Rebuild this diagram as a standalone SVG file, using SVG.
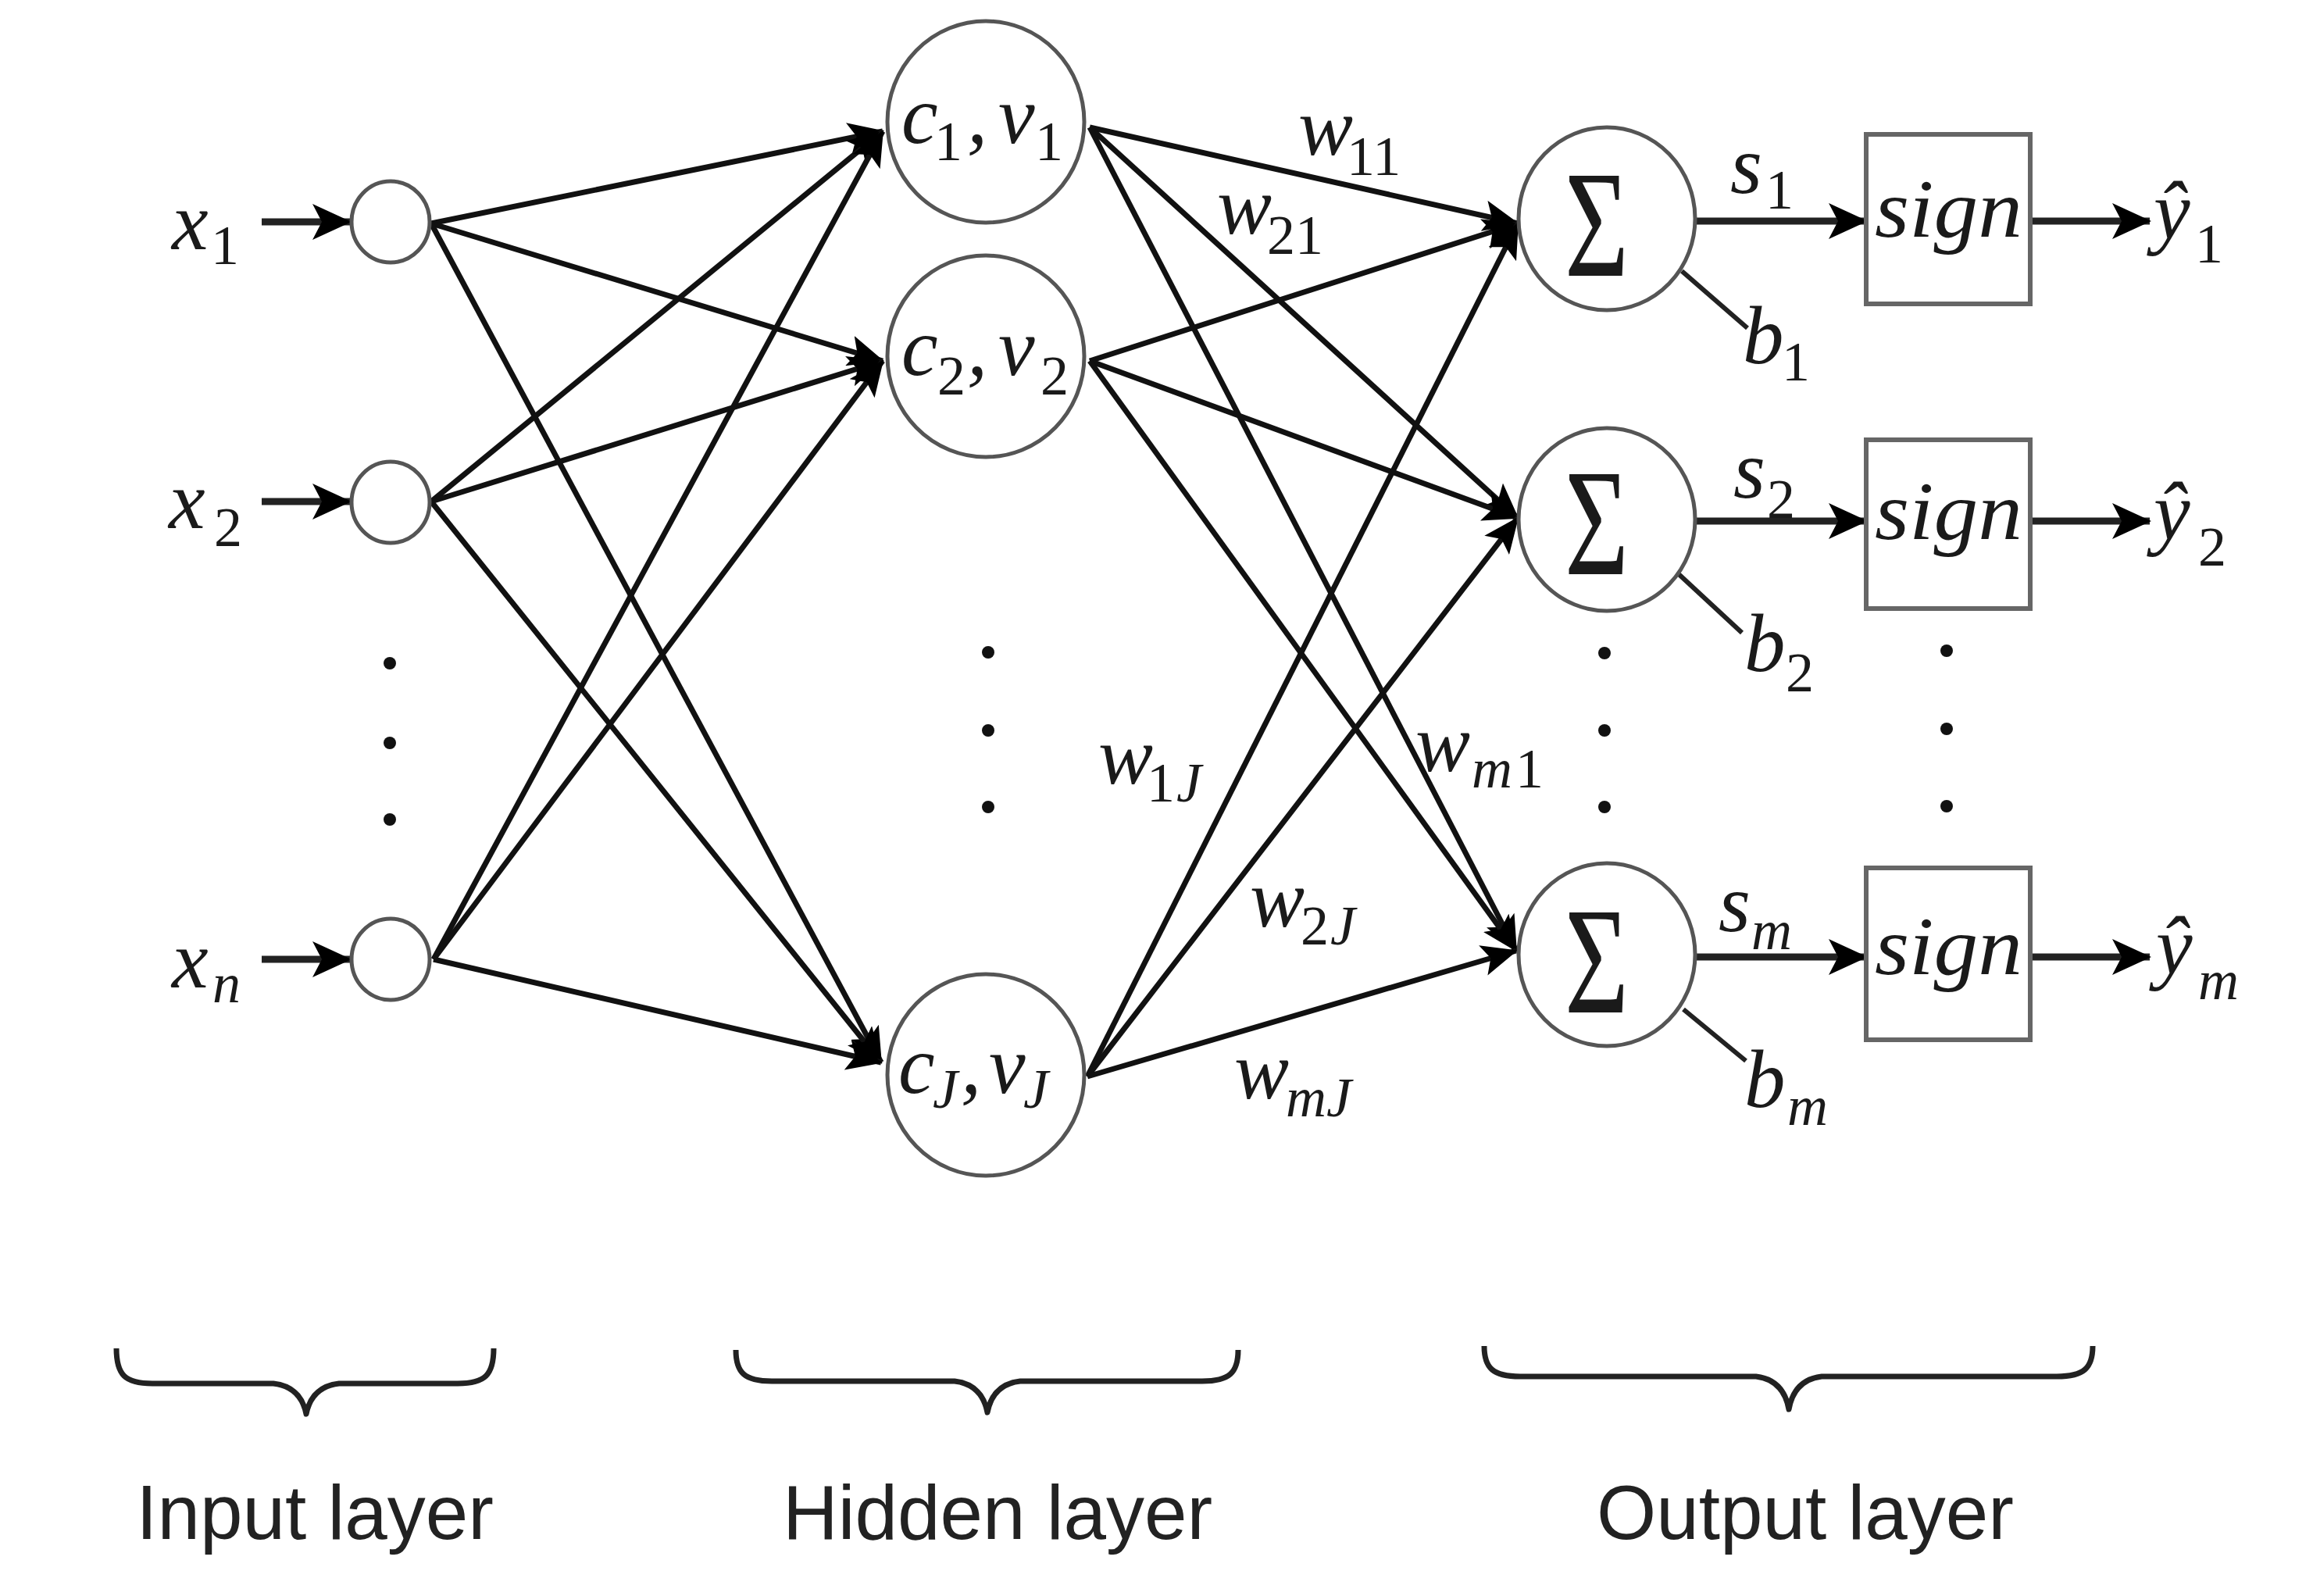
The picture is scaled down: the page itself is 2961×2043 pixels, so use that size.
<svg xmlns="http://www.w3.org/2000/svg" width="2961" height="2043" viewBox="0 0 2961 2043">
<style>
.bg{fill:#ffffff}
.node{fill:#ffffff;stroke:#555555;stroke-width:5}
.box{fill:#ffffff;stroke:#666666;stroke-width:6}
.edge{stroke:#111111;stroke-width:7;fill:none}
.thick{stroke:#222222;stroke-width:9;fill:none}
.bias{stroke:#222222;stroke-width:6;fill:none}
.brace{stroke:#222222;stroke-width:7;fill:none;stroke-linejoin:round}
.dot{fill:#111111}
.m{font-family:"Liberation Serif",serif;font-style:italic;font-size:105px;fill:#1a1a1a}
.sub{font-size:72px}
.up{font-style:normal}
.sig{font-family:"Liberation Serif",serif;font-size:195px;fill:#1a1a1a}
.cap{font-family:"Liberation Sans",Arial,sans-serif;font-size:98px;fill:#222222;text-anchor:middle}
</style>
<defs>
<marker id="ah" markerUnits="userSpaceOnUse" markerWidth="46" markerHeight="40" viewBox="0 0 46 40" refX="44" refY="20" orient="auto">
<path d="M0,0 L46,20 L0,40 L10,20 z" fill="#000000"/>
</marker>
<marker id="ahb" markerUnits="userSpaceOnUse" markerWidth="50" markerHeight="46" viewBox="0 0 50 46" refX="48" refY="23" orient="auto">
<path d="M0,0 L50,23 L0,46 L12,23 z" fill="#000000"/>
</marker>
</defs>
<rect class="bg" x="0" y="0" width="2961" height="2043"/>

<g id="connectors">
<line class="thick" x1="335" y1="284" x2="448" y2="284" marker-end="url(#ahb)"/>
<line class="thick" x1="335" y1="642" x2="448" y2="642" marker-end="url(#ahb)"/>
<line class="thick" x1="335" y1="1228" x2="448" y2="1228" marker-end="url(#ahb)"/>
<line class="edge" x1="552" y1="286" x2="1130" y2="168" marker-end="url(#ah)"/>
<line class="edge" x1="552" y1="286" x2="1130" y2="462" marker-end="url(#ah)"/>
<line class="edge" x1="552" y1="286" x2="1128" y2="1360" marker-end="url(#ah)"/>
<line class="edge" x1="552" y1="642" x2="1130" y2="168" marker-end="url(#ah)"/>
<line class="edge" x1="552" y1="642" x2="1130" y2="462" marker-end="url(#ah)"/>
<line class="edge" x1="552" y1="642" x2="1128" y2="1360" marker-end="url(#ah)"/>
<line class="edge" x1="555" y1="1228" x2="1130" y2="168" marker-end="url(#ah)"/>
<line class="edge" x1="555" y1="1228" x2="1130" y2="462" marker-end="url(#ah)"/>
<line class="edge" x1="555" y1="1228" x2="1128" y2="1360" marker-end="url(#ah)"/>
<line class="edge" x1="1395" y1="163" x2="1943" y2="286" marker-end="url(#ah)"/>
<line class="edge" x1="1395" y1="163" x2="1943" y2="663" marker-end="url(#ah)"/>
<line class="edge" x1="1395" y1="163" x2="1941" y2="1217" marker-end="url(#ah)"/>
<line class="edge" x1="1395" y1="462" x2="1943" y2="286" marker-end="url(#ah)"/>
<line class="edge" x1="1395" y1="462" x2="1943" y2="663" marker-end="url(#ah)"/>
<line class="edge" x1="1395" y1="462" x2="1941" y2="1217" marker-end="url(#ah)"/>
<line class="edge" x1="1392" y1="1378" x2="1943" y2="286" marker-end="url(#ah)"/>
<line class="edge" x1="1392" y1="1378" x2="1943" y2="663" marker-end="url(#ah)"/>
<line class="edge" x1="1392" y1="1378" x2="1941" y2="1217" marker-end="url(#ah)"/>
<line class="thick" x1="2170" y1="283" x2="2389" y2="283" marker-end="url(#ahb)"/>
<line class="thick" x1="2170" y1="667" x2="2389" y2="667" marker-end="url(#ahb)"/>
<line class="thick" x1="2170" y1="1225" x2="2389" y2="1225" marker-end="url(#ahb)"/>
<line class="thick" x1="2599" y1="283" x2="2752" y2="283" marker-end="url(#ahb)"/>
<line class="thick" x1="2599" y1="667" x2="2752" y2="667" marker-end="url(#ahb)"/>
<line class="thick" x1="2599" y1="1225" x2="2752" y2="1225" marker-end="url(#ahb)"/>
<line class="bias" x1="2153" y1="347" x2="2237" y2="420"/>
<line class="bias" x1="2148" y1="734" x2="2230" y2="810"/>
<line class="bias" x1="2155" y1="1292" x2="2235" y2="1358"/>
</g>

<g id="input-labels">
<text class="m" x="220" y="319">x<tspan class="sub up" x="270" y="338">1</tspan></text>
<text class="m" x="216" y="676">x<tspan class="sub up" x="274" y="699">2</tspan></text>
<text class="m" x="220" y="1264">x<tspan class="sub" x="272" y="1283">n</tspan></text>
</g>

<g id="in1"><ellipse class="node" cx="500" cy="284" rx="50" ry="52"/></g>
<g id="in2"><ellipse class="node" cx="500" cy="643" rx="50" ry="52"/></g>
<g id="inn"><ellipse class="node" cx="500" cy="1228" rx="50" ry="52"/></g>

<g id="input-dots">
<circle class="dot" cx="499" cy="849" r="8"/>
<circle class="dot" cx="499" cy="951" r="8"/>
<circle class="dot" cx="499" cy="1049" r="8"/>
</g>

<g id="h1">
<ellipse class="node" cx="1262" cy="156" rx="126" ry="129"/>
<text class="m" x="1154" y="183">c<tspan class="sub up" x="1196" y="205">1</tspan><tspan x="1238" y="183">,</tspan><tspan x="1278" y="183">v</tspan><tspan class="sub up" x="1325" y="205">1</tspan></text>
</g>
<g id="h2">
<ellipse class="node" cx="1262" cy="456" rx="126" ry="129"/>
<text class="m" x="1154" y="480">c<tspan class="sub up" x="1200" y="505">2</tspan><tspan x="1238" y="480">,</tspan><tspan x="1278" y="480">v</tspan><tspan class="sub up" x="1332" y="505">2</tspan></text>
</g>
<g id="hJ">
<ellipse class="node" cx="1262" cy="1376" rx="126" ry="129"/>
<text class="m" x="1150" y="1399">c<tspan class="sub" x="1194" y="1418">J</tspan><tspan x="1230" y="1399">,</tspan><tspan x="1266" y="1399">v</tspan><tspan class="sub" x="1310" y="1418">J</tspan></text>
</g>

<g id="hidden-dots">
<circle class="dot" cx="1265" cy="835" r="8"/>
<circle class="dot" cx="1265" cy="935" r="8"/>
<circle class="dot" cx="1265" cy="1033" r="8"/>
</g>

<g id="weight-labels">
<text class="m" x="1662" y="198">w<tspan class="sub up" x="1724" y="224">11</tspan></text>
<text class="m" x="1558" y="299">w<tspan class="sub up" x="1622" y="325">21</tspan></text>
<text class="m" x="1406" y="1003">w<tspan class="sub up" x="1468" y="1026">1</tspan><tspan class="sub" x="1506" y="1026">J</tspan></text>
<text class="m" x="1812" y="987">w<tspan class="sub" x="1884" y="1008">m</tspan><tspan class="sub up" x="1940" y="1008">1</tspan></text>
<text class="m" x="1600" y="1186">w<tspan class="sub up" x="1665" y="1209">2</tspan><tspan class="sub" x="1703" y="1209">J</tspan></text>
<text class="m" x="1580" y="1406">w<tspan class="sub" x="1646" y="1429">mJ</tspan></text>
</g>

<g id="o1">
<ellipse class="node" cx="2057" cy="280" rx="113" ry="117"/>
<text class="sig" x="2003" y="353" textLength="82" lengthAdjust="spacingAndGlyphs">Σ</text>
</g>
<g id="o2">
<ellipse class="node" cx="2057" cy="665" rx="113" ry="117"/>
<text class="sig" x="2003" y="735" textLength="82" lengthAdjust="spacingAndGlyphs">Σ</text>
</g>
<g id="om">
<ellipse class="node" cx="2057" cy="1222" rx="113" ry="117"/>
<text class="sig" x="2003" y="1296" textLength="82" lengthAdjust="spacingAndGlyphs">Σ</text>
</g>

<g id="output-dots">
<circle class="dot" cx="2054" cy="836" r="8"/>
<circle class="dot" cx="2054" cy="935" r="8"/>
<circle class="dot" cx="2054" cy="1033" r="8"/>
<circle class="dot" cx="2492" cy="833" r="8"/>
<circle class="dot" cx="2492" cy="933" r="8"/>
<circle class="dot" cx="2492" cy="1032" r="8"/>
</g>

<g id="sum-labels">
<text class="m" x="2215" y="247">s<tspan class="sub up" x="2260" y="267">1</tspan></text>
<text class="m" x="2219" y="637">s<tspan class="sub up" x="2262" y="663">2</tspan></text>
<text class="m" x="2200" y="1192">s<tspan class="sub" x="2242" y="1215">m</tspan></text>
<text class="m" x="2231" y="465">b<tspan class="sub up" x="2281" y="487">1</tspan></text>
<text class="m" x="2233" y="859">b<tspan class="sub up" x="2286" y="885">2</tspan></text>
<text class="m" x="2233" y="1417">b<tspan class="sub" x="2288" y="1440">m</tspan></text>
</g>

<g id="sign1">
<rect class="box" x="2389" y="172" width="210" height="217"/>
<text class="m" x="2400" y="303" textLength="189" lengthAdjust="spacingAndGlyphs">sign</text>
</g>
<g id="sign2">
<rect class="box" x="2389" y="563" width="210" height="216"/>
<text class="m" x="2400" y="690" textLength="189" lengthAdjust="spacingAndGlyphs">sign</text>
</g>
<g id="signm">
<rect class="box" x="2389" y="1111" width="210" height="220"/>
<text class="m" x="2400" y="1247" textLength="189" lengthAdjust="spacingAndGlyphs">sign</text>
</g>

<g id="output-labels">
<text class="m" x="2757" y="305">ŷ<tspan class="sub up" x="2810" y="336">1</tspan></text>
<text class="m" x="2757" y="690">ŷ<tspan class="sub up" x="2814" y="724">2</tspan></text>
<text class="m" x="2760" y="1246">ŷ<tspan class="sub" x="2814" y="1279">m</tspan></text>
</g>

<g id="braces">
<path class="brace" d="M149,1726 C149,1760 160,1771 195,1771 L350,1771 Q385,1775 392,1810 Q399,1775 434,1771 L586,1771 C621,1771 632,1760 632,1726"/>
<path class="brace" d="M942,1728 C942,1757 953,1768 988,1768 L1222,1768 Q1257,1772 1264,1808 Q1271,1772 1306,1768 L1539,1768 C1574,1768 1585,1757 1585,1728"/>
<path class="brace" d="M1900,1723 C1900,1751 1911,1762 1946,1762 L2248,1762 Q2283,1766 2290,1804 Q2297,1766 2332,1762 L2633,1762 C2668,1762 2679,1751 2679,1723"/>
</g>

<g id="layer-captions">
<text class="cap" x="403" y="1970">Input layer</text>
<text class="cap" x="1277" y="1970">Hidden layer</text>
<text class="cap" x="2311" y="1970">Output layer</text>
</g>
</svg>
